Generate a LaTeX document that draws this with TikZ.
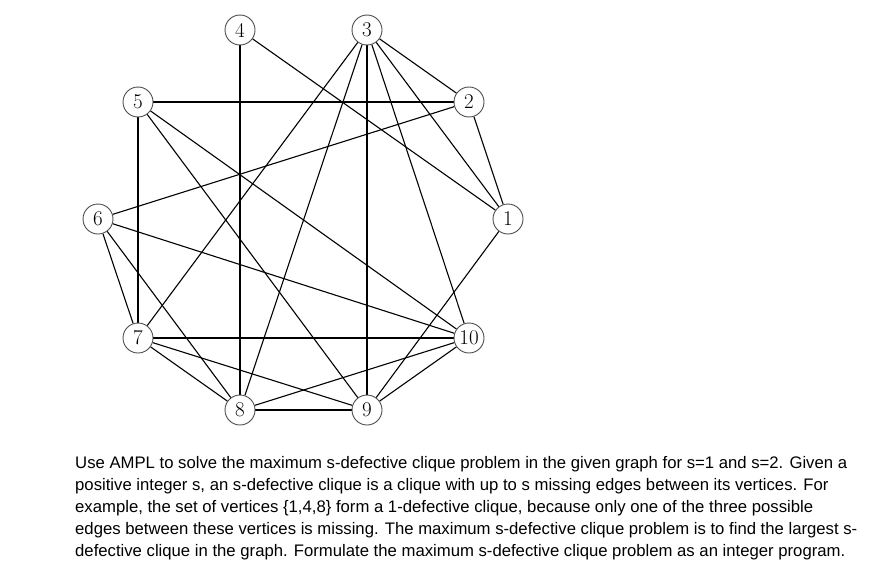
\documentclass[tikz,border=0pt]{standalone}
\usepackage{fontspec}
\newfontfamily\para{Liberation Sans}
\pgfdeclarelayer{bg}
\pgfsetlayers{bg,main}
\begin{document}
\begin{tikzpicture}[x=1pt,y=-1pt,
  vtx/.style={circle,draw=black!70,line width=0.9pt,fill=white,minimum size=30pt,inner sep=0pt,font=\fontsize{21}{21}\selectfont},
  edge/.style={line width=1.1pt}]
\useasboundingbox (0,0) rectangle (882,586);
\node[vtx] (4) at (240,30) {4};
\node[vtx] (3) at (367,30) {3};
\node[vtx] (2) at (469,102) {2};
\node[vtx] (5) at (138,102) {5};
\node[vtx] (6) at (98,219) {6};
\node[vtx] (1) at (508,219) {1};
\node[vtx] (7) at (138,338) {7};
\node[vtx] (10) at (469,338) {10};
\node[vtx] (8) at (240,410) {8};
\node[vtx] (9) at (367,410) {9};
\begin{pgfonlayer}{bg}
\foreach \a/\b in {4/8,4/1,3/2,3/1,3/9,3/10,3/7,3/8,5/2,5/7,5/9,5/10,6/2,6/10,6/7,6/8,2/1,1/9,7/10,7/9,7/8,8/10,8/9,9/10}
  \draw[edge] (\a) -- (\b);
\end{pgfonlayer}
\node[anchor=north west,align=left,inner sep=0pt,font=\para\fontsize{16.7}{22}\selectfont] (txt) at (75,456)
{Use AMPL to solve the maximum s-defective clique problem in the given graph for s=1 and s=2. Given a\\
positive integer s, an s-defective clique is a clique with up to s missing edges between its vertices. For\\
example, the set of vertices \{1,4,8\} form a 1-defective clique, because only one of the three possible\\
edges between these vertices is missing. The maximum s-defective clique problem is to find the largest s-\\
defective clique in the graph. Formulate the maximum s-defective clique problem as an integer program.};
\end{tikzpicture}
\end{document}
